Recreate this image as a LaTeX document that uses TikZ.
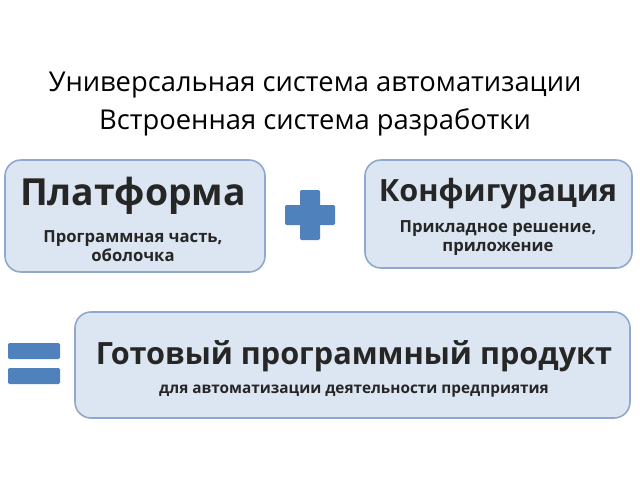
\documentclass[tikz,border=0pt]{standalone}
\usepackage{fontspec}
\setmainfont{Open Sans}
\begin{document}
\begin{tikzpicture}[x=0.75pt,y=-0.75pt,
  box/.style={draw=boxborder,line width=1.2pt,fill=boxfill,rounded corners=12pt},
  big/.style={font=\bfseries\fontsize{28}{30}\selectfont,text=darktext},
  small/.style={font=\bfseries\fontsize{12.5}{14.5}\selectfont,text=darktext,align=center},
  title/.style={font=\fontsize{20.5}{28}\selectfont,text=black,align=center}]
\definecolor{boxfill}{HTML}{DCE6F2}
\definecolor{boxborder}{HTML}{8FA8CC}
\definecolor{signblue}{HTML}{4F81BD}
\definecolor{darktext}{HTML}{262626}
\useasboundingbox (0,0) rectangle (640,480);
\fill[white] (0,0) rectangle (640,480);
\node[title] (t) at (315,104) {Универсальная система автоматизации\\Встроенная система разработки};
\draw[box] (5,160) rectangle (265,272);
\node[big] (p) at (133,196) {Платформа};
\node[small] (ps) at (133,246) {Программная часть,\\оболочка};
\draw[box] (365,160) rectangle (632,268);
\node[big,font=\bfseries\fontsize{23}{26}\selectfont] (k) at (498,194) {Конфигурация};
\node[small] (ks) at (498,238) {Прикладное решение,\\приложение};
\fill[signblue,rounded corners=1pt] (300,190) rectangle (320,240);
\fill[signblue,rounded corners=1pt] (285,205) rectangle (335,225);
\fill[signblue,rounded corners=1pt] (8,343) rectangle (60,359);
\fill[signblue,rounded corners=1pt] (8,368) rectangle (60,384);
\draw[box] (75,312) rectangle (630,418);
\node[big,font=\bfseries\fontsize{23}{26}\selectfont] (g) at (354,356) {Готовый программный продукт};
\node[small,font=\bfseries\fontsize{11.5}{13}\selectfont] (gs) at (354,391) {для автоматизации деятельности предприятия};
\end{tikzpicture}
\end{document}
